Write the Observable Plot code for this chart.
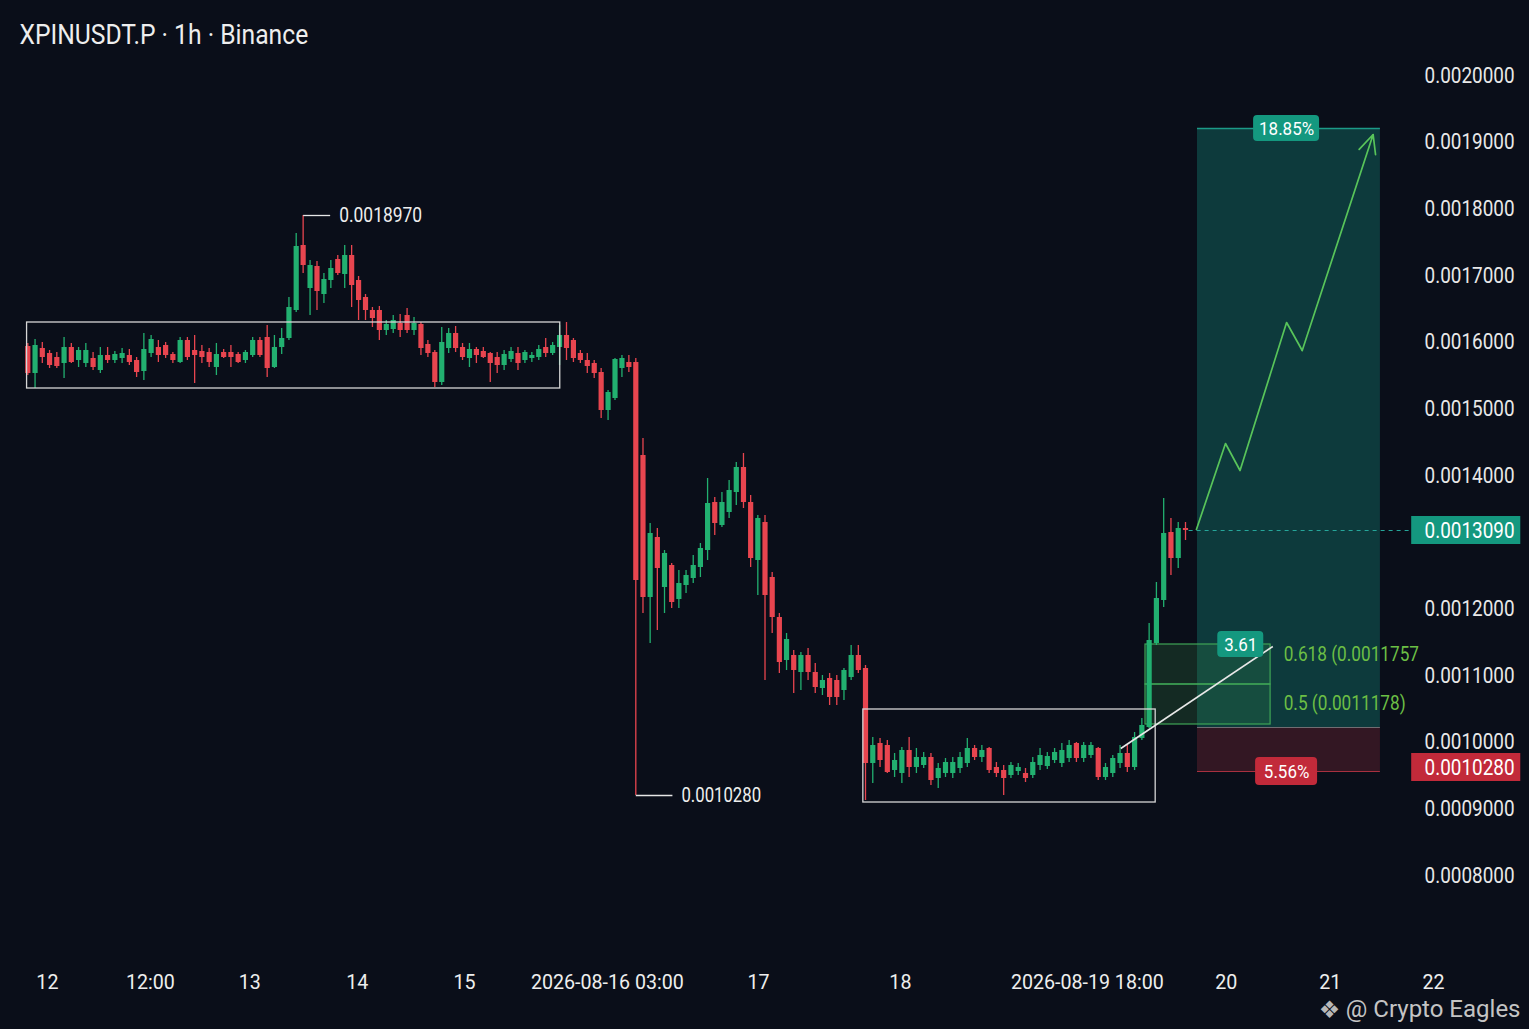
<!DOCTYPE html>
<html>
<head>
<meta charset="utf-8">
<script src="https://cdn.jsdelivr.net/npm/d3@7"></script>
<script src="https://cdn.jsdelivr.net/npm/@observablehq/plot@0.6"></script>
<style>
html,body{margin:0;padding:0;background:#0a0e19;overflow:hidden}
#chart svg{display:block}
</style>
</head>
<body>
<div id="chart"></div>
<script>
// ---------- DATA ----------
const openP = [
0.0015935,0.0015530,0.0015905,0.0015830,0.0015770,0.0015680,0.0015920,0.0015725,0.0015680,0.0015755,
0.0015575,0.0015800,0.0015725,0.0015755,0.0015800,0.0015725,0.0015560,0.0015830,0.0015920,0.0015950,
0.0015815,0.0015695,0.0016025,0.0015875,0.0015860,0.0015845,0.0015620,0.0015845,0.0015845,0.0015815,
0.0015725,0.0015800,0.0016025,0.0016070,0.0015620,0.0015920,0.0016055,0.0016475,0.0017450,0.0016805,
0.0017135,0.0016715,0.0016925,0.0017240,0.0017015,0.0017300,0.0016925,0.0016670,0.0016475,0.0016475,
0.0016175,0.0016190,0.0016280,0.0016400,0.0016175,0.0016265,0.0015965,0.0015845,0.0015395,0.0015905,
0.0016130,0.0015920,0.0015755,0.0015890,0.0015860,0.0015830,0.0015770,0.0015650,0.0015740,0.0015830,
0.0015725,0.0015755,0.0015770,0.0015920,0.0015830,0.0015920,0.0016100,0.0016025,0.0015830,0.0015725,
0.0015680,0.0015545,0.0014975,0.0015155,0.0015605,0.0015695,0.0015695,0.0014300,0.0012170,0.0013070,
0.0012320,0.0012650,0.0012140,0.0012350,0.0012455,0.0012620,0.0012875,0.0013595,0.0013250,0.0013445,
0.0013745,0.0014120,0.0013595,0.0012725,0.0013295,0.0012470,0.0011870,0.0011225,0.0011300,0.0011045,
0.0011300,0.0011045,0.0010805,0.0010955,0.0010925,0.0010775,0.0010970,0.0011300,0.0011105,0.0009680,
0.0009980,0.0009950,0.0009575,0.0009530,0.0009875,0.0009620,0.0009650,0.0009770,0.0009455,0.0009530,
0.0009530,0.0009605,0.0009680,0.0009905,0.0009770,0.0009905,0.0009620,0.0009575,0.0009500,0.0009560,
0.0009530,0.0009500,0.0009650,0.0009635,0.0009725,0.0009680,0.0009755,0.0009980,0.0009755,0.0009800,
0.0009905,0.0009470,0.0009530,0.0009680,0.0009830,0.0009620,0.0010055,0.0010220,0.0011480,0.0012125,
0.0013145,0.0012755,0.0013205
];
const highP = [
0.0015980,0.0016040,0.0015995,0.0015875,0.0015845,0.0016070,0.0015980,0.0015920,0.0015980,0.0015845,
0.0015920,0.0015920,0.0015860,0.0015905,0.0015890,0.0015770,0.0016130,0.0016100,0.0016025,0.0015995,
0.0015845,0.0016070,0.0016070,0.0016100,0.0015950,0.0015905,0.0015980,0.0015890,0.0015950,0.0015845,
0.0015875,0.0016070,0.0016070,0.0016250,0.0016100,0.0016205,0.0016670,0.0017630,0.0017900,0.0017225,
0.0017210,0.0017030,0.0017225,0.0017300,0.0017450,0.0017450,0.0016985,0.0016715,0.0016520,0.0016535,
0.0016325,0.0016400,0.0016415,0.0016505,0.0016370,0.0016295,0.0016025,0.0015875,0.0016220,0.0016205,
0.0016235,0.0015980,0.0015980,0.0015920,0.0015920,0.0015845,0.0015845,0.0015875,0.0015920,0.0015920,
0.0015875,0.0015845,0.0015950,0.0016055,0.0015995,0.0016250,0.0016295,0.0016055,0.0015875,0.0015830,
0.0015725,0.0015605,0.0015275,0.0015755,0.0015800,0.0015800,0.0015755,0.0014555,0.0013280,0.0013205,
0.0012875,0.0012680,0.0012575,0.0012575,0.0012800,0.0012980,0.0013955,0.0013670,0.0013745,0.0013925,
0.0014195,0.0014330,0.0013700,0.0013400,0.0013400,0.0012545,0.0011930,0.0011630,0.0011375,0.0011345,
0.0011405,0.0011180,0.0011000,0.0011030,0.0011000,0.0011105,0.0011450,0.0011450,0.0011150,0.0010070,
0.0010055,0.0010025,0.0009830,0.0009920,0.0010070,0.0009905,0.0009845,0.0009830,0.0009680,0.0009755,
0.0009770,0.0009845,0.0010055,0.0009950,0.0009950,0.0009920,0.0009695,0.0009650,0.0009695,0.0009680,
0.0009605,0.0009770,0.0009905,0.0009845,0.0009905,0.0009980,0.0010025,0.0009995,0.0009995,0.0009995,
0.0009920,0.0009680,0.0009800,0.0009950,0.0009950,0.0010145,0.0010355,0.0011780,0.0012395,0.0013655,
0.0013355,0.0013295,0.0013295
];
const lowP = [
0.0015500,0.0015305,0.0015680,0.0015605,0.0015605,0.0015455,0.0015680,0.0015620,0.0015620,0.0015575,
0.0015530,0.0015680,0.0015680,0.0015680,0.0015650,0.0015470,0.0015425,0.0015770,0.0015695,0.0015755,
0.0015680,0.0015680,0.0015725,0.0015380,0.0015680,0.0015620,0.0015500,0.0015755,0.0015620,0.0015680,
0.0015680,0.0015770,0.0015770,0.0015470,0.0015605,0.0015815,0.0016025,0.0016445,0.0017030,0.0016400,
0.0016475,0.0016580,0.0016805,0.0017000,0.0016805,0.0016520,0.0016325,0.0016325,0.0016220,0.0016025,
0.0016100,0.0016130,0.0016070,0.0016130,0.0016100,0.0015800,0.0015770,0.0015320,0.0015350,0.0015830,
0.0015845,0.0015725,0.0015620,0.0015680,0.0015755,0.0015395,0.0015530,0.0015575,0.0015695,0.0015575,
0.0015680,0.0015695,0.0015725,0.0015770,0.0015800,0.0015650,0.0015725,0.0015695,0.0015680,0.0015530,
0.0015455,0.0014855,0.0014825,0.0015125,0.0015470,0.0015545,0.0009200,0.0011930,0.0011480,0.0011675,
0.0011930,0.0012005,0.0012005,0.0012230,0.0012380,0.0012470,0.0012725,0.0013100,0.0013220,0.0013355,
0.0013550,0.0013505,0.0012620,0.0012200,0.0010925,0.0011630,0.0011030,0.0011075,0.0010730,0.0010775,
0.0010925,0.0010730,0.0010700,0.0010550,0.0010550,0.0010625,0.0010925,0.0011030,0.0009125,0.0009380,
0.0009620,0.0009530,0.0009470,0.0009380,0.0009470,0.0009530,0.0009605,0.0009350,0.0009305,0.0009470,
0.0009455,0.0009530,0.0009620,0.0009725,0.0009695,0.0009530,0.0009470,0.0009200,0.0009455,0.0009500,
0.0009395,0.0009455,0.0009575,0.0009590,0.0009680,0.0009620,0.0009695,0.0009695,0.0009695,0.0009755,
0.0009425,0.0009425,0.0009470,0.0009605,0.0009545,0.0009575,0.0010025,0.0010205,0.0011450,0.0012020,
0.0012500,0.0012605,0.0013025
];
const closeP = [
0.0015530,0.0015950,0.0015770,0.0015650,0.0015635,0.0015920,0.0015695,0.0015875,0.0015875,0.0015620,
0.0015800,0.0015725,0.0015815,0.0015830,0.0015695,0.0015545,0.0015890,0.0016040,0.0015800,0.0015800,
0.0015725,0.0016025,0.0015770,0.0015800,0.0015770,0.0015695,0.0015815,0.0015770,0.0015770,0.0015695,
0.0015845,0.0016025,0.0015800,0.0015605,0.0015920,0.0016055,0.0016520,0.0017435,0.0017150,0.0017150,
0.0016760,0.0016940,0.0017105,0.0017030,0.0017300,0.0016850,0.0016625,0.0016475,0.0016355,0.0016175,
0.0016265,0.0016325,0.0016175,0.0016175,0.0016280,0.0015905,0.0015830,0.0015395,0.0015995,0.0016130,
0.0015905,0.0015770,0.0015890,0.0015800,0.0015770,0.0015680,0.0015650,0.0015815,0.0015860,0.0015680,
0.0015845,0.0015800,0.0015890,0.0015830,0.0015950,0.0016100,0.0015905,0.0015755,0.0015725,0.0015635,
0.0015530,0.0014975,0.0015245,0.0015740,0.0015755,0.0015620,0.0012425,0.0012170,0.0013130,0.0012605,
0.0012830,0.0012095,0.0012380,0.0012500,0.0012650,0.0012905,0.0013580,0.0013280,0.0013595,0.0013775,
0.0014120,0.0013595,0.0012755,0.0013355,0.0012200,0.0011870,0.0011195,0.0011540,0.0011075,0.0011300,
0.0011045,0.0010820,0.0010925,0.0010670,0.0010670,0.0011075,0.0011300,0.0011075,0.0009680,0.0009950,
0.0009725,0.0009545,0.0009725,0.0009875,0.0009620,0.0009770,0.0009770,0.0009425,0.0009605,0.0009695,
0.0009695,0.0009770,0.0009905,0.0009770,0.0009875,0.0009575,0.0009530,0.0009455,0.0009650,0.0009620,
0.0009455,0.0009695,0.0009800,0.0009785,0.0009845,0.0009875,0.0009950,0.0009755,0.0009950,0.0009950,
0.0009470,0.0009620,0.0009755,0.0009830,0.0009620,0.0010070,0.0010250,0.0011525,0.0012155,0.0013130,
0.0012755,0.0013205,0.0013175
];

// Price axis ticks (0.0013000 is hidden behind the last-price tag in the picture)
const priceTicks = [0.0020, 0.0019, 0.0018, 0.0017, 0.0016, 0.0015, 0.0014, 0.0012, 0.0011, 0.0010, 0.0009, 0.0008];
// Time axis: labels and their position on the bar index axis
const timeTickLabels = ["12", "12:00", "13", "14", "15", "2026-08-16 03:00", "17", "18", "2026-08-19 18:00", "20", "21", "22"];
const timeTickBars   = [2.7, 16.9, 30.6, 45.8, 61.3, 81.9, 103.1, 122.8, 148.5, 167.6, 181.9, 196.1];

const titleText = "XPINUSDT.P · 1h · Binance";
const watermarkText = "@ Crypto Eagles";
const watermarkIcon = "❖";

// Annotations
const rangeBoxes = [
  {x1: -0.1, x2: 75.1, top: 0.0016295, bottom: 0.0015305},
  {x1: 117.7, x2: 157.9, top: 0.0010490, bottom: 0.0009095}
];
const extremeLabels = [
  {bar: 38, end: 41.9, kind: "high", text: "0.0018970"},
  {bar: 86, end: 91.1, kind: "low", text: "0.0010280"}
];
const positionTool = {x1: 163.65, x2: 188.8, target: 0.0019205, entry: 0.0010220, stop: 0.0009560, mid: 175.9,
  targetText: "18.85%", stopText: "5.56%"};
const fibBands = [
  {x1: 156.5, x2: 173.7, top: 0.0011465, bottom: 0.0010865},
  {x1: 156.5, x2: 173.7, top: 0.0010865, bottom: 0.0010265}
];
const fibLabels = [
  {x: 175.5, y: 0.0011315, text: "0.618 (0.0011757"},
  {x: 175.5, y: 0.0010580, text: "0.5 (0.0011178)"}
];
const rrBadge = {x: 169.6, y: 0.0011465, text: "3.61"};
const trendLine = {x1: 153.1, y1: 0.0009905, x2: 174.0, y2: 0.0011435};
const projectionBars   = [163.5, 167.5, 169.5, 175.9, 178.05, 187.8];
const projectionPrices = [0.0013190, 0.0014480, 0.0014075, 0.0016295, 0.0015875, 0.0019115];
const lastPriceText = "0.0013090";
const stopPriceText = "0.0010280";
const axisTagBars = {x1: 193.1, x2: 208.1};
const priceLineEnd = 192.9;

// ---------- BUILD ----------
const candles = openP.map((o, i) => ({i, o, h: highP[i], l: lowP[i], c: closeP[i]}));
const up = candles.filter(d => d.c >= d.o);
const down = candles.filter(d => d.c < d.o);
const last = candles[candles.length - 1];
const timeTicks = timeTickLabels.map((label, k) => ({label, bar: timeTickBars[k]}));
const projection = projectionBars.map((x, k) => ({x, y: projectionPrices[k]}));
const extremes = extremeLabels.map(d => ({...d, y: d.kind === "high" ? highP[d.bar] : lowP[d.bar]}));
const tickText = d => d.toFixed(7);

// Typography: glyph height from the picture, then condensed horizontally to the picture's text width
const FONT = 'Roboto, "DejaVu Sans", sans-serif';
const ctx = document.createElement("canvas").getContext("2d");
function measure(s, size) { ctx.font = `${size}px ${FONT}`; return ctx.measureText(s).width; }
const typo = {
  axis:  {size: 22,   sample: "0.0020000",        width: 90,  texts: [...priceTicks.map(tickText), lastPriceText, stopPriceText]},
  title: {size: 28,   sample: titleText,          width: 289, texts: [titleText]},
  time:  {size: 20.5, sample: "2026-08-16 03:00", width: 153, texts: timeTickLabels},
  note:  {size: 19.5, sample: "0.0018970",        width: 83,  texts: extremeLabels.map(d => d.text)},
  fib:   {size: 20.5, sample: "0.5 (0.0011178)",  width: 122, texts: fibLabels.map(d => d.text)},
  badge: {size: 19,   sample: "18.85%",           width: 55,  texts: [positionTool.targetText, positionTool.stopText, rrBadge.text]},
  water: {size: 24,   sample: watermarkText,      width: 176, texts: [watermarkText]}
};
const squeeze = new Map();
for (const k in typo) {
  const t = typo[k];
  t.sx = Math.min(1, t.width / measure(t.sample, t.size));
  for (const s of t.texts) if (!squeeze.has(s)) squeeze.set(s, t.sx);
}

const GREEN = "#22b070", RED = "#e8454f", TEAL = "#14987f", BADGE_RED = "#c22a3a";

const chart = Plot.plot({
  width: 1529, height: 1029,
  marginTop: 0, marginRight: 0, marginBottom: 0, marginLeft: 0,
  style: {background: "#0a0e19", color: "#e6e6e6", fontFamily: FONT},
  x: {type: "linear", domain: [0, 37, 86, 118, 162], range: [27.3, 295.7, 635.3, 865, 1185], axis: null},
  y: {type: "linear", domain: [0.0008, 0.0020], range: [875, 75], axis: null},
  marks: [
    // position tool zones
    Plot.rect([positionTool], {x1: "x1", x2: "x2", y1: "entry", y2: "target", fill: "#169485", fillOpacity: 0.33}),
    Plot.rect([positionTool], {x1: "x1", x2: "x2", y1: "stop", y2: "entry", fill: "#8c2a3a", fillOpacity: 0.32}),
    Plot.ruleY([positionTool], {x1: "x1", x2: "x2", y: "target", stroke: "#1c9a88", strokeWidth: 1.3}),
    Plot.ruleY([positionTool], {x1: "x1", x2: "x2", y: "entry", stroke: "#9aa6a6", strokeOpacity: 0.6}),
    Plot.ruleY([positionTool], {x1: "x1", x2: "x2", y: "stop", stroke: "#a8303f", strokeWidth: 1.2}),
    // fib zones
    Plot.rect(fibBands, {x1: "x1", x2: "x2", y1: "bottom", y2: "top", fill: "#3d9a4a", fillOpacity: 0.2, stroke: "#3fa556", strokeWidth: 1.2}),
    // candles
    Plot.ruleX(up, {x: "i", y1: "l", y2: "h", stroke: GREEN, strokeWidth: 1.3}),
    Plot.ruleX(down, {x: "i", y1: "l", y2: "h", stroke: RED, strokeWidth: 1.3}),
    Plot.ruleX(up, {x: "i", y1: "o", y2: "c", stroke: GREEN, strokeWidth: 5.2}),
    Plot.ruleX(down, {x: "i", y1: "o", y2: "c", stroke: RED, strokeWidth: 5.2}),
    // range boxes
    Plot.rect(rangeBoxes, {x1: "x1", x2: "x2", y1: "bottom", y2: "top", fill: "none", stroke: "#d6d6d6", strokeWidth: 1.3}),
    // trend line
    Plot.link([trendLine], {x1: "x1", y1: "y1", x2: "x2", y2: "y2", stroke: "#e8e8e8", strokeWidth: 1.6}),
    // projection path + arrow
    Plot.line(projection.slice(0, 5), {x: "x", y: "y", stroke: "#58c45a", strokeWidth: 1.7}),
    Plot.arrow([{a: projection[4], b: projection[5]}], {x1: d => d.a.x, y1: d => d.a.y, x2: d => d.b.x, y2: d => d.b.y,
      stroke: "#58c45a", strokeWidth: 1.7, headLength: 18, headAngle: 50}),
    // last price dashed line
    Plot.ruleY([last], {y: "c", x1: d => d.i + 0.5, x2: () => priceLineEnd, stroke: "#26a69a", strokeDasharray: "4,4", strokeWidth: 1}),
    // extreme labels
    Plot.link(extremes, {x1: "bar", x2: "end", y1: "y", y2: "y", stroke: "#e6e6e6", strokeWidth: 1.3}),
    Plot.text(extremes, {x: "end", y: "y", text: "text", dx: 9, textAnchor: "start", fill: "#eeeeee", fontSize: typo.note.size}),
    // fib labels
    Plot.text(fibLabels, {x: "x", y: "y", text: "text", textAnchor: "start", fill: "#6cbf45", fontSize: typo.fib.size}),
    // badges
    Plot.rect([positionTool], {x1: "mid", x2: "mid", y1: "target", y2: "target", insetLeft: -33, insetRight: -33, insetTop: -13, insetBottom: -13, rx: 4, fill: TEAL}),
    Plot.text([positionTool], {x: "mid", y: "target", text: "targetText", fill: "white", fontSize: typo.badge.size}),
    Plot.rect([positionTool], {x1: "mid", x2: "mid", y1: "stop", y2: "stop", insetLeft: -31, insetRight: -31, insetTop: -14, insetBottom: -14, rx: 4, fill: BADGE_RED}),
    Plot.text([positionTool], {x: "mid", y: "stop", text: "stopText", fill: "white", fontSize: typo.badge.size}),
    Plot.rect([rrBadge], {x1: "x", x2: "x", y1: "y", y2: "y", insetLeft: -23, insetRight: -23, insetTop: -13, insetBottom: -13, rx: 4, fill: TEAL}),
    Plot.text([rrBadge], {x: "x", y: "y", text: "text", fill: "white", fontSize: typo.badge.size}),
    // price axis
    Plot.text(priceTicks, {y: d => d, text: tickText, frameAnchor: "right", textAnchor: "end", lineAnchor: "middle", dx: -15, fill: "#e8e8e8", fontSize: typo.axis.size}),
    Plot.rect([last], {x1: () => axisTagBars.x1, x2: () => axisTagBars.x2, y1: "c", y2: "c", insetTop: -14, insetBottom: -14, fill: TEAL}),
    Plot.text([last], {y: "c", text: () => lastPriceText, frameAnchor: "right", textAnchor: "end", lineAnchor: "middle", dx: -15, fill: "white", fontSize: typo.axis.size}),
    Plot.rect([positionTool], {x1: () => axisTagBars.x1, x2: () => axisTagBars.x2, y1: "stop", y2: "stop", insetTop: -18, insetBottom: -10, fill: BADGE_RED}),
    Plot.text([positionTool], {y: "stop", text: () => stopPriceText, frameAnchor: "right", textAnchor: "end", lineAnchor: "middle", dx: -15, dy: -4, fill: "white", fontSize: typo.axis.size}),
    // time axis
    Plot.text(timeTicks, {x: "bar", text: "label", frameAnchor: "bottom", lineAnchor: "middle", dy: -47, fill: "#eeeeee", fontSize: typo.time.size}),
    // title & watermark
    Plot.text([titleText], {text: d => d, frameAnchor: "top-left", lineAnchor: "middle", dx: 19, dy: 35, textAnchor: "start", fill: "#eeeeee", fontSize: typo.title.size}),
    Plot.text([watermarkText], {text: d => d, frameAnchor: "bottom-right", lineAnchor: "middle", dx: -9, dy: -20, textAnchor: "end", fill: "#c4c4c4", fontSize: typo.water.size}),
    Plot.text([watermarkIcon], {text: d => d, frameAnchor: "bottom-right", lineAnchor: "middle", dx: -200, dy: -19, textAnchor: "middle", fill: "#b8b8b8", fontSize: 24})
  ]
});

// condense text horizontally about its anchor point
d3.select(chart).selectAll("text").each(function () {
  const sx = squeeze.get(this.textContent);
  if (sx && sx < 1) {
    const t = this.getAttribute("transform") || "";
    this.setAttribute("transform", `${t} scale(${sx.toFixed(3)},1)`);
  }
});
document.getElementById("chart").appendChild(chart);
</script>
</body>
</html>
